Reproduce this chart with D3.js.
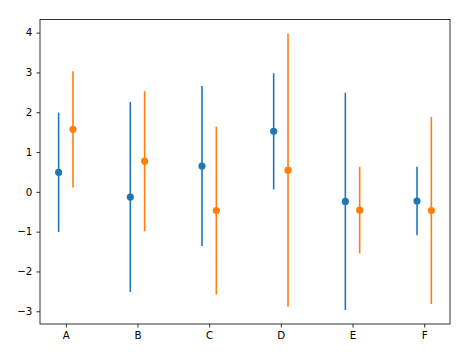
<!DOCTYPE html>
<html><head><meta charset="utf-8">
<script src="https://cdn.jsdelivr.net/npm/d3@7"></script>
<style>body{margin:0;background:#fff}svg{display:block}</style>
</head><body>
<script>
const categories = ["A","B","C","D","E","F"];
const series1Values = [0.49, -0.13, 0.65, 1.52, -0.24, -0.23];
const series1Errors = [1.50, 2.39, 2.01, 1.46, 2.73, 0.86];
const series2Values = [1.57, 0.77, -0.47, 0.545, -0.46, -0.47];
const series2Errors = [1.46, 1.76, 2.11, 3.43, 1.09, 2.35];
const yTicks = [-3,-2,-1,0,1,2,3,4];
const colors = ["#1f77b4", "#ff7f0e"];

const W = 474, H = 356;
const m = {left: 40, right: 24, top: 19.5, bottom: 32};
const svg = d3.select("body").append("svg").attr("width", W).attr("height", H);

const x = d3.scaleLinear().domain([-0.36, 5.36]).range([m.left, W - m.right]);
const y = d3.scaleLinear().domain([-3.32, 4.33]).range([H - m.bottom, m.top]);

const series = [
  {vals: series1Values, errs: series1Errors, off: -0.1, color: colors[0]},
  {vals: series2Values, errs: series2Errors, off: 0.1, color: colors[1]}
];

series.forEach(s => {
  const g = svg.append("g");
  g.selectAll("line").data(categories).join("line")
    .attr("x1", (d,i) => x(i + s.off)).attr("x2", (d,i) => x(i + s.off))
    .attr("y1", (d,i) => y(s.vals[i] - s.errs[i]))
    .attr("y2", (d,i) => y(s.vals[i] + s.errs[i]))
    .attr("stroke", s.color).attr("stroke-width", 1.6);
  g.selectAll("circle").data(categories).join("circle")
    .attr("cx", (d,i) => x(i + s.off)).attr("cy", (d,i) => y(s.vals[i]))
    .attr("r", 3.6).attr("fill", s.color);
});

const fmt = d => d < 0 ? "\u2212" + Math.abs(d) : String(d);
const xAxis = svg.append("g").attr("transform", `translate(0,${H - m.bottom})`)
  .call(d3.axisBottom(x).tickValues(d3.range(categories.length)).tickFormat(i => categories[i]).tickSize(3.6).tickPadding(4));
const yAxis = svg.append("g").attr("transform", `translate(${m.left},0)`)
  .call(d3.axisLeft(y).tickValues(yTicks).tickFormat(fmt).tickSize(3.6).tickPadding(4));
[xAxis, yAxis].forEach(a => {
  a.select(".domain").remove();
  a.selectAll("text").attr("font-family", "DejaVu Sans").attr("font-size", 10.3).attr("fill", "#000");
  a.selectAll("line").attr("stroke", "#000").attr("stroke-width", 0.8);
});

svg.append("rect").attr("x", m.left).attr("y", m.top)
  .attr("width", W - m.left - m.right).attr("height", H - m.top - m.bottom)
  .attr("fill", "none").attr("stroke", "#000").attr("stroke-width", 0.8);
</script>
</body></html>
